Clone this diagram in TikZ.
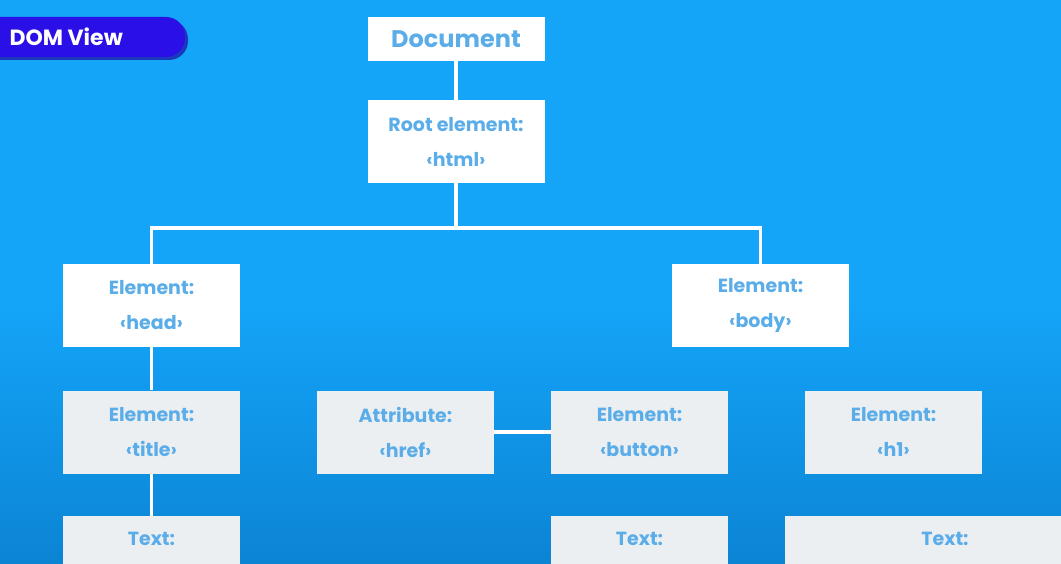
\documentclass[tikz,border=0pt]{standalone}
\usepackage{fontspec}
\setmainfont{Poppins}
\definecolor{bgtop}{HTML}{14A5F9}
\definecolor{bgbot}{HTML}{0C84D4}
\definecolor{txt}{HTML}{5AADE8}
\definecolor{pill}{HTML}{2A0FE6}
\definecolor{greybox}{HTML}{ECEFF2}
\tikzset{
  box/.style={fill=white, minimum width=177pt, minimum height=83pt, inner sep=0pt, align=center, text=txt, font=\fontsize{19}{35}\selectfont\bfseries},
  gbox/.style={box, fill=greybox},
  lbl/.style={text=txt, font=\fontsize{19}{35}\selectfont\bfseries},
  link/.style={draw=white, line width=3.5pt},
}
\begin{document}
\begin{tikzpicture}[x=1pt,y=-1pt]
\useasboundingbox (0,0) rectangle (1061,564);
\clip (0,0) rectangle (1061,564);
\shade[top color=bgtop, bottom color=bgbot] (0,300) rectangle (1061,564);
\fill[bgtop] (0,0) rectangle (1061,300.5);
% pill
\fill[black!30!pill!70!bgtop, rounded corners=19pt] (-30,20) rectangle (188,60);
\fill[pill, rounded corners=19pt] (-30,17) rectangle (185,57);
\node[text=white, font=\fontsize{22}{24}\selectfont\bfseries, anchor=west] (dom) at (6,37) {DOM View};
% nodes
\node[box, minimum height=44pt, font=\fontsize{24}{26}\selectfont\bfseries] (doc) at (456,39) {Document};
\node[box] (root) at (456,141.5) {Root element:\\‹html›};
\node[box] (head) at (151.5,305.5) {Element:\\‹head›};
\node[box] (body) at (760.5,305.5) {Element:\\‹body›};
\node[gbox] (title) at (151.5,432) {Element:\\‹title›};
\node[gbox] (href) at (405.5,432) {Attribute:\\‹href›};
\node[gbox] (button) at (639.5,432) {Element:\\‹button›};
\node[gbox] (h1) at (893.5,432) {Element:\\‹h1›};
\node[gbox, anchor=north] (t1) at (151.5,516) {};
\node[gbox, anchor=north] (t2) at (639.5,516) {};
\node[gbox, anchor=north, minimum width=320pt] (t3) at (945,516) {};
\node[lbl] (t1l) at (151.5,539) {Text:};
\node[lbl] (t2l) at (639.5,539) {Text:};
\node[lbl] (t3l) at (945,539) {Text:};
% links
\draw[link] (doc) -- (root);
\coordinate (bar) at (456,228);
\draw[link] (root.south) -- (bar);
\draw[link] (head.north) |- (bar) -| (body.north);
\draw[link] (head) -- (title);
\draw[link] (title) -- (t1);
\draw[link] (href) -- (button);
\end{tikzpicture}
\end{document}
